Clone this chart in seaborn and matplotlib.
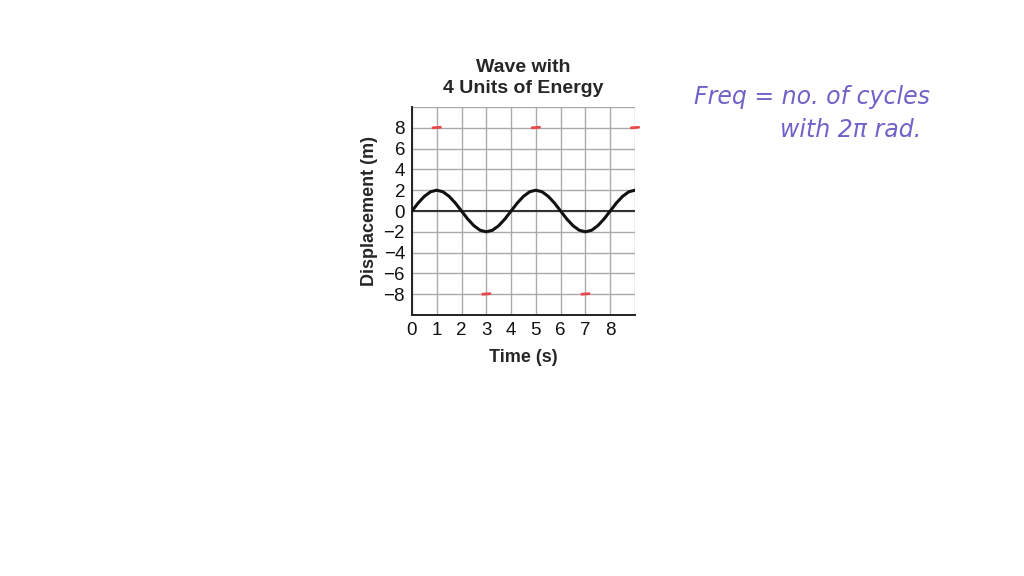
import matplotlib
matplotlib.use("Agg")
import matplotlib.pyplot as plt
import seaborn as sns
import pandas as pd

# wave every 0.25 s
time_s = [i * 0.25 for i in range(37)]
one_cycle = [0, 0.77, 1.41, 1.85, 2, 1.85, 1.41, 0.77,
             0, -0.77, -1.41, -1.85, -2, -1.85, -1.41, -0.77]
displacement = (one_cycle * 3)[:37]

# red marks drawn by hand
mark_x = [1, 5, 9, 3, 7]
mark_y = [8, 8, 8, -8, -8]

x_ticks = [0, 1, 2, 3, 4, 5, 6, 7, 8]
y_ticks = [-8, -6, -4, -2, 0, 2, 4, 6, 8]

sns.set_style("white")
plt.rcParams['font.family'] = ['Liberation Sans', 'DejaVu Sans']

fig = plt.figure(figsize=(10.24, 5.76), dpi=100)
ax = fig.add_axes([0.4023, 0.4531, 0.2178, 0.3611])

for gx in range(0, 10):
    ax.axvline(gx, color="#aaaaaa", lw=1.0, zorder=0)
for gy in range(-10, 11, 2):
    ax.axhline(gy, color="#aaaaaa", lw=1.0, zorder=0)
ax.axhline(0, color="#333333", lw=1.5, zorder=1)

df = pd.DataFrame({"t": time_s, "d": displacement})
sns.lineplot(data=df, x="t", y="d", ax=ax, color="#111111", lw=2.2, zorder=3)

for mx, my in zip(mark_x, mark_y):
    ax.plot([mx - 0.15, mx + 0.15], [my, my + 0.05], color="#e8474c", lw=2, zorder=4,
            solid_capstyle="round", clip_on=False)

ax.set_xlim(0, 9)
ax.set_ylim(-10, 10)
ax.set_xticks(x_ticks)
ax.set_yticks(y_ticks)
ax.set_yticklabels([str(v).replace("-", "\u2212") for v in y_ticks])
ax.tick_params(labelsize=13.5, length=0, pad=5, labelcolor="#111111")
for side in ["top", "right"]:
    ax.spines[side].set_visible(False)
for side in ["left", "bottom"]:
    ax.spines[side].set_color("#222222")
    ax.spines[side].set_linewidth(1.4)
ax.set_xlabel("Time (s)", fontsize=13, fontweight="bold", labelpad=7)
ax.set_ylabel("Displacement (m)", fontsize=13, fontweight="bold", labelpad=4)
ax.set_title("Wave with\n4 Units of Energy", fontsize=14, fontweight="bold",
             pad=10, linespacing=1.3)

fig.text(0.678, 0.82, "Freq = no. of cycles", fontsize=17, color="#6f63c9",
         family="DejaVu Sans", style="italic")
fig.text(0.762, 0.762, "with 2\u03c0 rad.", fontsize=17, color="#6f63c9",
         family="DejaVu Sans", style="italic")

fig.savefig("out.png", dpi=100)
